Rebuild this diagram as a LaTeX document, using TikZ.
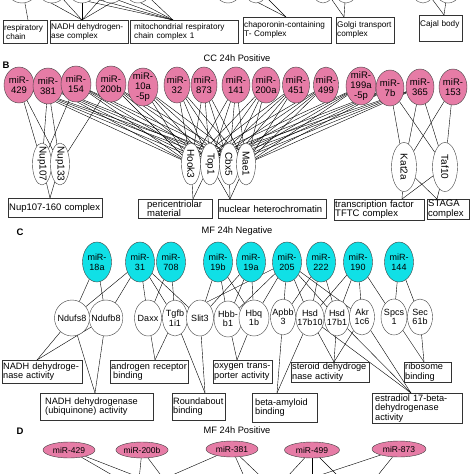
\documentclass[tikz,border=0pt]{standalone}
\usepackage{fontspec}
\setmainfont{Liberation Sans}
\usetikzlibrary{shapes.geometric,backgrounds}
\definecolor{mirpink}{RGB}{230,124,166}
\definecolor{mircyan}{RGB}{16,224,230}
\tikzset{
  box/.style={draw=black!80, anchor=north west, inner sep=1pt, align=left, fill=white},
  boxa/.style={box, font=\fontsize{8.2}{9}\selectfont},
  boxb/.style={box, font=\fontsize{9.5}{9.8}\selectfont},
  boxc/.style={box, font=\fontsize{9.2}{9.5}\selectfont},
  mir/.style={ellipse, draw=black!75, inner sep=-2pt, align=center, fill=mirpink,
    font=\fontsize{9.5}{10}\selectfont, minimum width=30pt, minimum height=36pt},
  mirc/.style={mir, fill=mircyan, font=\fontsize{9}{10}\selectfont, minimum width=29pt, minimum height=40pt},
  mird/.style={mir, inner sep=0pt, font=\fontsize{8.5}{9}\selectfont, minimum width=52pt, minimum height=16pt},
  gene/.style={ellipse, draw=black!75, align=center, fill=white},
  agene/.style={gene, inner sep=0pt, font=\fontsize{8.5}{9}\selectfont, minimum height=32pt},
  vgene/.style={gene, rotate=-90, inner xsep=-3pt, inner ysep=0pt, font=\fontsize{10}{10}\selectfont,
    minimum width=42pt, minimum height=19pt},
  hgene/.style={gene, inner xsep=-2.6pt, inner ysep=0pt, font=\fontsize{9}{9.5}\selectfont,
    minimum width=27pt, minimum height=36pt},
  link/.style={draw, line width=0.4pt},
  title/.style={font=\fontsize{9.3}{10}\selectfont},
  panel/.style={font=\bfseries\fontsize{9.5}{10}\selectfont},
}
\begin{document}
\begin{tikzpicture}[x=1pt, y=-1pt]
  \useasboundingbox (0,0) rectangle (474,474);
  \clip (0,0) rectangle (474,474);

  % panel A (cut at the top)
  \node[agene, minimum width=32pt] (a1) at (22,-13) {Uqcr\\q1};
  \node[agene, minimum width=30pt] (a2) at (52,-13) {Nduf\\a4};
  \node[agene, minimum width=30pt] (a3) at (82,-13) {Nduf\\a6};
  \node[agene, minimum width=29pt] (a4) at (111,-13) {Nduf\\a9};
  \node[agene, minimum width=27pt] (a5) at (138,-13) {Nduf\\b1};
  \node[agene, minimum width=28pt] (a6) at (228,-13) {Cct\\a1};
  \node[agene, minimum width=24pt] (a7) at (256,-13) {Cct\\1};
  \node[agene, minimum width=23pt] (a8) at (323,-13) {Cog\\1};
  \node[agene, minimum width=24pt] (a9) at (346,-13) {Cog\\6a};
  \node[agene, minimum width=24pt] (a10) at (423,-13) {Coil\\lto};
  \node[agene, minimum width=27pt] (a11) at (448,-13) {Fbl\\Fbl};

  \node[boxa, text width=42pt, minimum height=23pt] (resp) at (3,20) {respiratory\\\hspace{2pt}chain};
  \node[boxa, text width=76pt, minimum height=23pt] (nadhA) at (50,20) {NADH dehydrogen-\\ase complex};
  \node[boxa, text width=106pt, minimum height=23pt] (mito) at (130,20) {\hspace{3pt}mitochondrial respiratory\\\hspace{3pt}chain complex 1};
  \node[boxa, text width=86pt, minimum height=26pt] (chap) at (243,17) {chaporonin-containing\\T- Complex};
  \node[boxa, text width=56pt, minimum height=26pt] (golgi) at (336,17) {Golgi transport\\complex};
  \node[boxa, text width=41pt, minimum height=26pt] (cajal) at (419,15) {Cajal body\\\mbox{}};

  \begin{pgfonlayer}{background}
  \draw[link] (a1) -- ([xshift=25pt]resp.north west);
  \foreach \g in {a1,a2,a3,a4,a5} {
    \draw[link] (\g) -- ([xshift=32pt]nadhA.north west);
    \draw[link] (\g) -- ([xshift=43pt]mito.north west);
  }
  \foreach \g in {a6,a7} \draw[link] (\g) -- ([xshift=43pt]chap.north west);
  \foreach \g in {a8,a9} \draw[link] (\g) -- ([xshift=8pt]golgi.north west);
  \foreach \g in {a10,a11} \draw[link] (\g) -- ([xshift=25pt]cajal.north west);
  \end{pgfonlayer}

  % panel B
  \node[panel] (pB) at (6,65) {B};
  \node[title] (tB) at (237,58) {CC 24h Positive};
  \node[mir] (b429) at (19,85) {miR-\\429};
  \node[mir] (b381) at (48,86) {miR-\\381};
  \node[mir] (b154) at (76,84) {miR-\\154};
  \node[mir] (b200b) at (111,84) {miR-\\200b};
  \node[mir, minimum height=38pt] (b10a) at (143,87) {miR-\\10a\\-5p};
  \node[mir, minimum width=26pt] (b32) at (177,85) {miR-\\32};
  \node[mir, minimum width=26pt] (b873) at (204,85) {miR-\\873};
  \node[mir, minimum width=28pt] (b141) at (236,85) {miR-\\141};
  \node[mir, minimum width=28pt] (b200a) at (266,85) {miR-\\200a};
  \node[mir, minimum width=27pt] (b451) at (296,85) {miR-\\451};
  \node[mir, minimum width=25pt] (b499) at (326,85) {miR-\\499};
  \node[mir, minimum height=38pt] (b199a) at (361,86) {miR-\\199a\\-5p};
  \node[mir, minimum width=28pt] (b7b) at (390,88) {miR-\\7b};
  \node[mir, minimum width=28pt] (b365) at (420,87) {miR-\\365};
  \node[mir, minimum width=28pt] (b153) at (453,87) {miR-\\153};

  \node[vgene] (nup107) at (42,164) {Nup107};
  \node[vgene] (nup133) at (60,164) {Nup133};
  \node[vgene] (hook3) at (191,164) {Hook3};
  \node[vgene] (top1) at (210,164) {Top1};
  \node[vgene] (cbx5) at (229,164) {Cbx5};
  \node[vgene] (mae1) at (246,164) {Mae1};
  \node[vgene, minimum width=49pt, minimum height=25pt] (kat2a) at (404,167) {Kat2a};
  \node[vgene, minimum width=49pt, minimum height=25pt] (taf10) at (445,167) {Taf10};

  \node[boxb, text width=92pt, minimum height=19pt] (nupc) at (8,198) {Nup107-160 complex};
  \node[boxb, text width=72pt, minimum height=19pt] (peri) at (138,199) {\hspace{8pt}pericentriolar\\\hspace{8pt}material};
  \node[boxb, text width=106pt, minimum height=19pt] (nuch) at (218,199) {nuclear heterochromatin};
  \node[boxb, text width=88pt, minimum height=19pt] (tftc) at (334,199) {transcription factor\\TFTC complex};
  \node[boxb, text width=40pt, minimum height=19pt] (staga) at (427,199) {STAGA\\complex};

  \begin{pgfonlayer}{background}
  \foreach \m in {b429,b381} \foreach \g in {nup107,nup133} \draw[link] (\m) -- (\g);
  \draw[link] (b154) -- (nup107);
  \draw[link] (b200b) -- (nup133);
  \foreach \m in {b429,b381,b154,b200b,b10a,b32,b873,b141,b200a,b451,b499,b199a,b7b,b365}
    \foreach \g in {hook3,top1,cbx5,mae1} \draw[link] (\m) -- (\g);
  \foreach \m in {b7b,b365,b153} \foreach \g in {kat2a,taf10} \draw[link] (\m) -- (\g);

  \foreach \g in {nup107,nup133} \draw[link] (\g) -- ([xshift=42pt]nupc.north west);
  \foreach \g in {hook3,top1} \draw[link] (\g) -- ([xshift=55pt]peri.north west);
  \foreach \g in {top1,cbx5,mae1} \draw[link] (\g) -- ([xshift=12pt]nuch.north west);
  \foreach \g in {kat2a,taf10} {
    \draw[link] (\g) -- ([xshift=68pt]tftc.north west);
    \draw[link] (\g) -- ([xshift=10pt]staga.north west);
  }
  \end{pgfonlayer}

  % panel C
  \node[panel] (pC) at (20,232) {C};
  \node[title] (tC) at (237,231) {MF 24h Negative};
  \node[mirc] (c18a) at (97,262) {miR-\\18a};
  \node[mirc] (c31) at (140,262) {miR-\\31};
  \node[mirc] (c708) at (171,262) {miR-\\708};
  \node[mirc] (c19b) at (218,262) {miR-\\19b};
  \node[mirc] (c19a) at (251,262) {miR-\\19a};
  \node[mirc] (c205) at (287,262) {miR-\\205};
  \node[mirc] (c222) at (321,262) {miR-\\222};
  \node[mirc] (c190) at (358,262) {miR-\\190};
  \node[mirc] (c144) at (399,262) {miR-\\144};

  \node[hgene, minimum width=35pt] (ndufs) at (72,318) {Ndufs8};
  \node[hgene, minimum width=33pt] (ndufb) at (106,318) {Ndufb8};
  \node[hgene] (daxx) at (148,318) {Daxx};
  \node[hgene, minimum width=25pt] (tgfb) at (175,318) {Tgfb\\1i1};
  \node[hgene] (slit) at (200,318) {Slit3};
  \node[hgene, minimum width=28pt] (hbb) at (228,319) {Hbb-\\b1};
  \node[hgene, minimum width=30pt] (hbq) at (254,318) {Hbq\\1b};
  \node[hgene, minimum width=25pt] (apbb) at (283,317) {Apbb\\3};
  \node[hgene, minimum width=28pt] (hsdt) at (310,318) {Hsd\\17b10};
  \node[hgene, minimum width=25pt] (hsdo) at (337,318) {Hsd\\17b1};
  \node[hgene, minimum width=25pt] (akr) at (362,317) {Akr\\1c6};
  \node[hgene, minimum width=26pt] (spcs) at (394,317) {Spcs\\1};
  \node[hgene, minimum width=25pt] (sec) at (420,317) {Sec\\61b};

  \node[boxc, text width=78pt, minimum height=23pt] (nadhAct) at (2,360) {NADH dehydroge-\\nase activity};
  \node[boxc, text width=76pt, minimum height=23pt] (andr) at (110,360) {androgen receptor\\\hspace{2pt}binding};
  \node[boxc, text width=57pt, minimum height=23pt] (oxy) at (213,360) {oxygen trans-\\porter activity};
  \node[boxc, text width=76pt, minimum height=20pt] (ster) at (291,362) {steroid dehydroge\\nase activity};
  \node[boxc, text width=45pt, minimum height=20pt] (ribo) at (404,362) {ribosome\\binding};
  \node[boxc, text width=111pt, minimum height=27pt] (ubq) at (40,393) {\hspace{4pt}NADH dehydrogenase\\\hspace{4pt}(ubiquinone) activity};
  \node[boxc, text width=51pt, minimum height=27pt] (robo) at (172,393) {Roundabout\\binding};
  \node[boxc, text width=63pt, minimum height=29pt] (beta) at (252,393) {\hspace{2pt}beta-amyloid\\\hspace{2pt}binding};
  \node[boxc, text width=88pt, minimum height=30pt] (estr) at (372,393) {\hspace{2pt}estradiol 17-beta-\\\hspace{2pt}dehydrogenase\\\hspace{2pt}activity};

  \begin{pgfonlayer}{background}
  \foreach \m/\g in {c18a/ndufs, c18a/ndufb, c31/ndufs, c31/ndufb, c31/daxx, c31/tgfb, c31/slit,
      c708/daxx, c708/tgfb, c19b/slit, c19b/hbb, c19b/hbq, c19a/slit, c19a/hbb, c19a/hbq,
      c205/tgfb, c205/hbb, c205/hbq, c205/apbb, c205/hsdt, c205/hsdo, c205/akr,
      c222/apbb, c222/hsdt, c222/hsdo, c190/hsdt, c190/hsdo, c190/akr, c190/spcs,
      c144/spcs, c144/sec}
    \draw[link] (\m) -- (\g);

  \foreach \g in {ndufs,ndufb} {
    \draw[link] (\g) -- ([xshift=35pt]nadhAct.north west);
    \draw[link] (\g) -- ([xshift=55pt]ubq.north west);
  }
  \foreach \g in {daxx,tgfb} \draw[link] (\g) -- ([xshift=45pt]andr.north west);
  \foreach \g in {tgfb,slit} \draw[link] (\g) -- ([xshift=33pt]robo.north west);
  \foreach \g in {hbb,hbq} \draw[link] (\g) -- ([xshift=24pt]oxy.north west);
  \foreach \g in {apbb,hsdt} \draw[link] (\g) -- ([xshift=25pt]beta.north west);
  \foreach \g in {hsdt,hsdo,akr} {
    \draw[link] (\g) -- ([xshift=43pt]ster.north west);
    \draw[link] (\g) -- ([xshift=39pt]estr.north west);
  }
  \foreach \g in {spcs,sec} \draw[link] (\g) -- ([xshift=20pt]ribo.north west);
  \end{pgfonlayer}

  % panel D (cut at the bottom)
  \node[panel] (pD) at (20,431) {D};
  \node[title] (tD) at (237,430) {MF 24h Positive};
  \node[mird] (d429) at (69,450) {miR-429};
  \node[mird, minimum width=44pt] (d200b) at (142,450) {miR-200b};
  \node[mird] (d381) at (232,449) {miR-381};
  \node[mird, minimum width=55pt] (d499) at (312,450) {miR-499};
  \node[mird, minimum width=54pt] (d873) at (399,449) {miR-873};

  \coordinate (dg1) at (138,490);
  \coordinate (dg2) at (172,490);
  \coordinate (dg3) at (250,490);
  \coordinate (dg4) at (275,490);
  \coordinate (dg5) at (312,490);
  \coordinate (dg6) at (352,490);
  \coordinate (dg7) at (366,490);
  \begin{pgfonlayer}{background}
  \foreach \m/\g in {d429/dg1, d429/dg2, d200b/dg1, d200b/dg2, d381/dg1, d381/dg3, d381/dg4,
      d499/dg4, d499/dg5, d499/dg6, d873/dg4, d873/dg7}
    \draw[link] (\m) -- (\g);
  \end{pgfonlayer}
\end{tikzpicture}
\end{document}
